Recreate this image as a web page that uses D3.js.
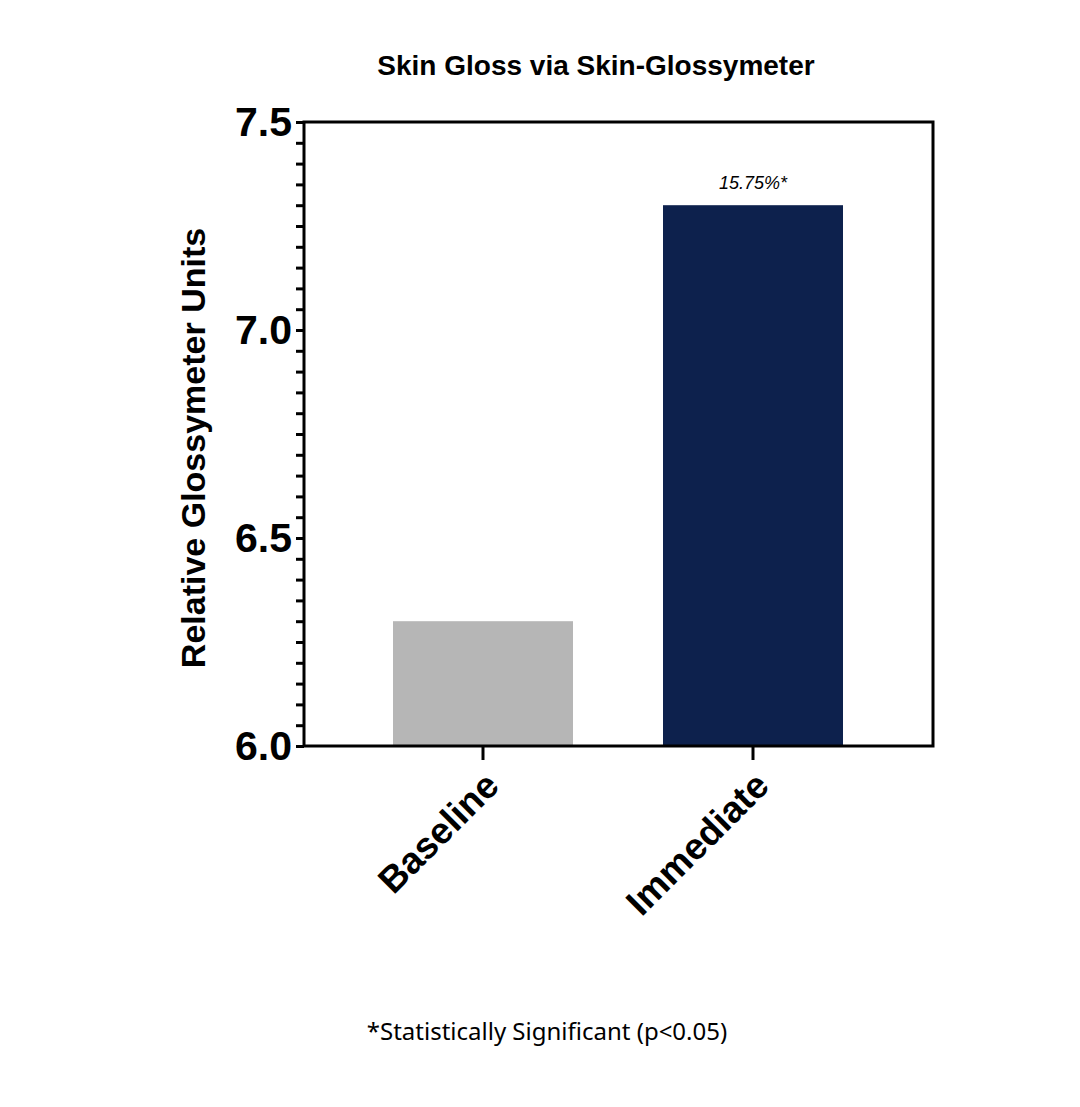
<!DOCTYPE html>
<html><head><meta charset="utf-8">
<script src="https://cdn.jsdelivr.net/npm/d3@7"></script>
<style>body{margin:0;background:#fff}</style>
</head><body>
<script>
var categories = ["Baseline", "Immediate"];
var values = [6.30, 7.30];
var colors = ["#b6b6b6", "#0d214d"];
var annotations = ["", "15.75%*"];
var majorTicks = [6.0, 6.5, 7.0, 7.5];

var svg = d3.select("body").append("svg").attr("width", 1080).attr("height", 1107);
var plotLeft = 304, plotRight = 933, plotTop = 122, plotBottom = 746;

var y = d3.scaleLinear().domain([6.0, 7.5]).range([plotBottom, plotTop]);
var x = d3.scaleBand().domain(categories).range([393, 843]).paddingInner(1 / 3).paddingOuter(0);

svg.append("text").attr("x", 596).attr("y", 75).attr("text-anchor", "middle")
    .attr("font-family", "Liberation Sans, Arial").attr("font-weight", "bold").attr("font-size", 28)
    .text("Skin Gloss via Skin-Glossymeter");

// bars
svg.selectAll(".bar").data(values).enter().append("rect")
    .attr("x", function(d, i) { return x(categories[i]); })
    .attr("width", x.bandwidth())
    .attr("y", function(d) { return y(d); })
    .attr("height", function(d) { return plotBottom - y(d); })
    .attr("fill", function(d, i) { return colors[i]; });

svg.selectAll(".ann").data(values).enter().append("text")
    .attr("x", function(d, i) { return x(categories[i]) + x.bandwidth() / 2; })
    .attr("y", function(d) { return y(d) - 16; })
    .attr("text-anchor", "middle")
    .attr("font-family", "Liberation Sans, Arial").attr("font-style", "italic").attr("font-size", 18)
    .text(function(d, i) { return annotations[i]; });

// frame
svg.append("rect").attr("x", plotLeft).attr("y", plotTop).attr("width", plotRight - plotLeft).attr("height", plotBottom - plotTop)
    .attr("fill", "none").attr("stroke", "#000").attr("stroke-width", 3);

// y axis
var yAxis = svg.append("g").attr("transform", "translate(" + plotLeft + ",0)")
    .call(d3.axisLeft(y).tickValues(d3.range(0, 31).map(function(i) { return 6 + i * 0.05; }))
        .tickSize(8).tickFormat(""));
yAxis.select(".domain").remove();
yAxis.selectAll("line").attr("stroke-width", 3);
svg.selectAll(".ylab").data(majorTicks).enter().append("text")
    .attr("x", plotLeft - 12).attr("y", function(d) { return y(d) + 14; })
    .attr("text-anchor", "end")
    .attr("font-family", "Liberation Sans, Arial").attr("font-weight", "bold").attr("font-size", 41)
    .text(function(d) { return d3.format(".1f")(d); });

// x axis
var xAxis = svg.append("g").attr("transform", "translate(0," + plotBottom + ")")
    .call(d3.axisBottom(x).tickSize(14).tickFormat(""));
xAxis.select(".domain").remove();
xAxis.selectAll("line").attr("stroke-width", 3);
svg.selectAll(".xlab").data(categories).enter().append("text")
    .attr("transform", function(d) { return "translate(" + (x(d) + x.bandwidth() / 2 + 18) + "," + (plotBottom + 42) + ") rotate(-45)"; })
    .attr("text-anchor", "end")
    .attr("font-family", "Liberation Sans, Arial").attr("font-weight", "bold").attr("font-size", 37)
    .text(function(d) { return d; });

svg.append("text").attr("transform", "translate(205," + ((plotTop + plotBottom) / 2 + 14) + ") rotate(-90)")
    .attr("text-anchor", "middle")
    .attr("font-family", "Liberation Sans, Arial").attr("font-weight", "bold").attr("font-size", 34)
    .text("Relative Glossymeter Units");

svg.append("text").attr("x", 547).attr("y", 1040).attr("text-anchor", "middle")
    .attr("font-family", "Noto Sans, Open Sans").attr("font-size", 24)
    .text("*Statistically Significant (p<0.05)");
</script>
</body></html>
